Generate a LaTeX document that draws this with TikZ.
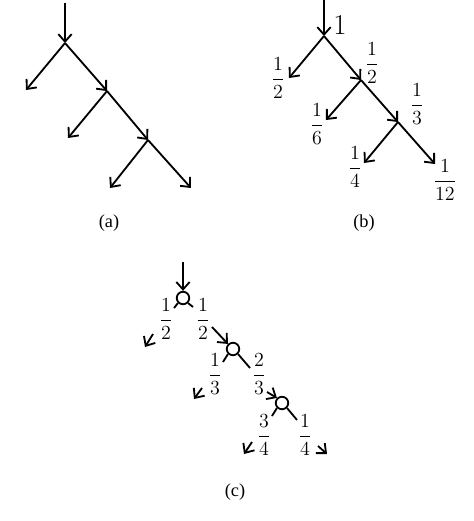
\documentclass[tikz,border=0pt]{standalone}
\usepackage{amsmath}
\usepackage{fontspec}
\newfontfamily\capfont{Liberation Serif}
\usetikzlibrary{arrows.meta}
\begin{document}
\begin{tikzpicture}[x=0.6pt,y=-0.6pt,
  arr/.style={-{Straight Barb[length=4.5pt,width=8pt,line width=1.1pt]}, line width=1.1pt},
  ln/.style={line width=1.1pt},
  lab/.style={font=\fontsize{13}{15}\selectfont, inner sep=0pt},
  biglab/.style={font=\fontsize{16}{18}\selectfont, inner sep=0pt},
  captext/.style={font=\capfont\fontsize{11}{13}\selectfont, inner sep=0pt},
  ring/.style={circle, draw, line width=1.1pt, minimum size=7.5pt, inner sep=0pt}]
\useasboundingbox (0,0) rectangle (474,521);
% ---------------- (a)
\coordinate (a0) at (65,3);
\coordinate (a1) at (65,43);
\coordinate (a2) at (26,90);
\coordinate (a3) at (107,91);
\coordinate (a4) at (68,138);
\coordinate (a5) at (148,140);
\coordinate (a6) at (110,188);
\coordinate (a7) at (191,188);
\draw[arr] (a0) -- (a1);
\draw[arr] (a1) -- (a2);
\draw[arr] (a1) -- (a3);
\draw[arr] (a3) -- (a4);
\draw[arr] (a3) -- (a5);
\draw[arr] (a5) -- (a6);
\draw[arr] (a5) -- (a7);
\node[captext] (capa) at (109,223) {(a)};
% ---------------- (b)
\coordinate (b0) at (324,0);
\coordinate (b1) at (324,36);
\coordinate (b2) at (289,78);
\coordinate (b3) at (361,80);
\coordinate (b4) at (326,120);
\coordinate (b5) at (398,122);
\coordinate (b6) at (364,163);
\coordinate (b7) at (435,164);
\draw[arr] (b0) -- (b1);
\draw[arr] (b1) -- (b2);
\draw[arr] (b1) -- (b3);
\draw[arr] (b3) -- (b4);
\draw[arr] (b3) -- (b5);
\draw[arr] (b5) -- (b6);
\draw[arr] (b5) -- (b7);
\node[biglab] (lb1) at (340,25) {$1$};
\node[lab] (lb2) at (278,78) {$\dfrac{1}{2}$};
\node[lab] (lb3) at (372,63) {$\dfrac{1}{2}$};
\node[lab] (lb4) at (317,124) {$\dfrac{1}{6}$};
\node[lab] (lb5) at (417,104) {$\dfrac{1}{3}$};
\node[lab] (lb6) at (355,167) {$\dfrac{1}{4}$};
\node[lab] (lb7) at (445,180) {$\dfrac{1}{12}$};
\node[captext] (capb) at (364,223) {(b)};
% ---------------- (c)
\coordinate (c0) at (183,262);
\node[ring] (c1) at (183,298) {};
\node[ring] (c2) at (233,349) {};
\node[ring] (c3) at (282,403) {};
\draw[arr] (c0) -- (c1.north);
% circle 1
\coordinate (s1l) at (174,308);
\coordinate (s1r) at (193,307);
\draw[ln] (c1.south west) -- (s1l);
\draw[ln] (c1.south east) -- (s1r);
\coordinate (t1l0) at (153,334);
\coordinate (t1l) at (145,347);
\draw[arr] (t1l0) -- (t1l);
\coordinate (t1r0) at (212,327);
\draw[arr] (t1r0) -- (c2.north west);
% circle 2
\coordinate (s2l) at (223,362);
\coordinate (s2r) at (250,368);
\draw[ln] (c2.south west) -- (s2l);
\draw[ln] (c2.south east) -- (s2r);
\coordinate (t2l0) at (202,388);
\coordinate (t2l) at (194,399);
\draw[arr] (t2l0) -- (t2l);
\coordinate (t2r0) at (267,392);
\draw[arr] (t2r0) -- (c3.north west);
% circle 3
\coordinate (s3l) at (272,416);
\coordinate (s3r) at (297,420);
\draw[ln] (c3.south west) -- (s3l);
\draw[ln] (c3.south east) -- (s3r);
\coordinate (t3l0) at (252,442);
\coordinate (t3l) at (244,454);
\draw[arr] (t3l0) -- (t3l);
\coordinate (t3r0) at (318,446);
\coordinate (t3r) at (327,454);
\draw[arr] (t3r0) -- (t3r);
\node[lab] (lc1) at (166,319) {$\dfrac{1}{2}$};
\node[lab] (lc2) at (203,319) {$\dfrac{1}{2}$};
\node[lab] (lc3) at (215,374) {$\dfrac{1}{3}$};
\node[lab] (lc4) at (259,374) {$\dfrac{2}{3}$};
\node[lab] (lc5) at (264,435) {$\dfrac{3}{4}$};
\node[lab] (lc6) at (305,435) {$\dfrac{1}{4}$};
\node[captext] (capc) at (235,492) {(c)};
\end{tikzpicture}
\end{document}
